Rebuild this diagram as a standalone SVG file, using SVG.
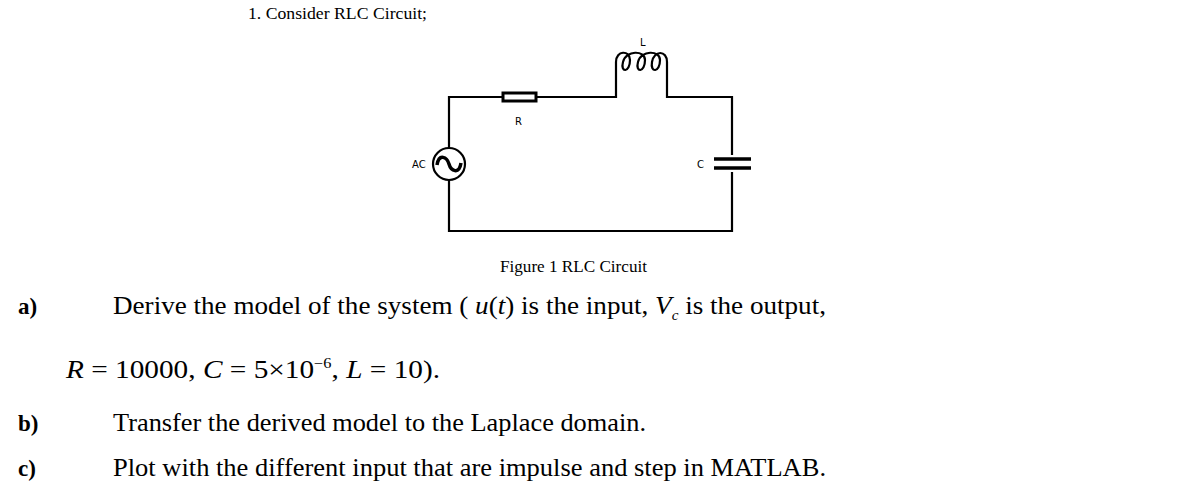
<svg xmlns="http://www.w3.org/2000/svg" width="1185" height="498" viewBox="0 0 1185 498">
<style>
.w{fill:none;stroke:#000;stroke-width:2.2}
.s{font-family:"Liberation Serif",serif;fill:#000}
.l{font-family:"DejaVu Sans",sans-serif;font-size:10px;fill:#000}
.b{font-family:"Liberation Serif",serif;font-weight:bold;font-size:23px}
.t{font-family:"Liberation Serif",serif;font-size:25px}
.i{font-style:italic}
</style>
<rect width="1185" height="498" fill="#fff"/>
<text class="s" x="248" y="19" font-size="17" textLength="179" lengthAdjust="spacingAndGlyphs">1. Consider RLC Circuit;</text>
<g id="connectors">
<path class="w" d="M449 148 V97 H502 M536 97 H616 V62 M667 62 V97 H732 V155 M732 172 V231 H449 V180"/>
</g>
<g id="R"><rect x="503" y="93" width="33" height="8" fill="#fff" stroke="#000" stroke-width="3"/><text class="l" x="515" y="125">R</text></g>
<g id="L"><path class="w" d="M616 62 C616 50 630 50 630 60 C630 73 620 73 623 62 C626 50 645 50 645 60 C645 73 635 73 638 62 C641 50 660 50 660 60 C660 73 650 73 652 62 C654 50 667 50 667 62"/><text class="l" x="640" y="46">L</text></g>
<g id="AC"><circle cx="449" cy="164" r="16" fill="#fff" stroke="#000" stroke-width="2.2"/><path d="M437 165 C439 153 447 157 449 164 C451 171 459 175 461 163" fill="none" stroke="#000" stroke-width="3.5"/><text class="l" x="412" y="168">AC</text></g>
<g id="C"><path d="M714 159 H751 M714 168 H751" stroke="#000" stroke-width="3.5"/><text class="l" x="697" y="168">C</text></g>
<text class="s" x="500" y="272" font-size="16" textLength="147" lengthAdjust="spacingAndGlyphs">Figure 1 RLC Circuit</text>
<text class="b" x="18" y="314">a)</text>
<text class="t" x="113" y="314" textLength="713" lengthAdjust="spacingAndGlyphs">Derive the model of the system ( <tspan class="i">u</tspan>(<tspan class="i">t</tspan>) is the input, <tspan class="i">V</tspan><tspan class="i" font-size="14" dy="6">c</tspan><tspan dy="-6">  is the output,</tspan></text>
<text class="t" x="66" y="378" textLength="374" lengthAdjust="spacingAndGlyphs"><tspan class="i">R</tspan> = 10000, <tspan class="i">C</tspan> = 5×10<tspan font-size="14" dy="-10">−6</tspan><tspan dy="10">, </tspan><tspan class="i">L</tspan> = 10).</text>
<text class="b" x="18" y="431">b)</text>
<text class="t" x="113" y="431" textLength="533" lengthAdjust="spacingAndGlyphs">Transfer the derived model to the Laplace domain.</text>
<text class="b" x="18" y="476">c)</text>
<text class="t" x="113" y="476" textLength="713" lengthAdjust="spacingAndGlyphs">Plot with the different input that are impulse and step in MATLAB.</text>
</svg>
